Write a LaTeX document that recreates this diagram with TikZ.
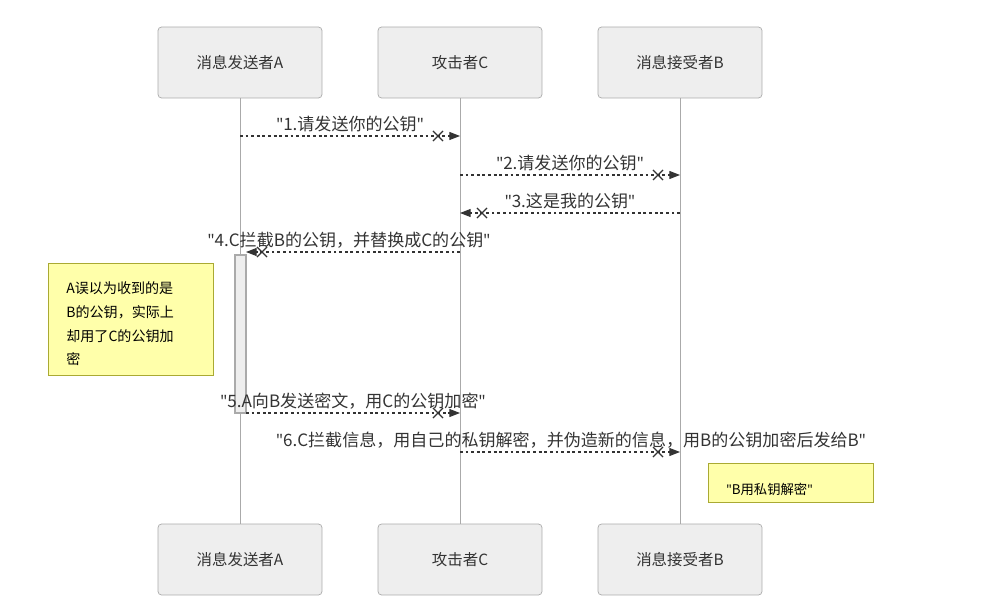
\documentclass[tikz,border=0pt]{standalone}
\usepackage{fontspec}
\setmainfont{Noto Sans CJK SC}
\newfontfamily\lat{Noto Sans}
\newcommand{\q}{{\lat"}}
\usetikzlibrary{arrows.meta,calc,shapes.misc}
\definecolor{actfill}{HTML}{EEEEEE}
\definecolor{actline}{HTML}{AAAAAA}
\definecolor{notefill}{HTML}{FFFFAA}
\definecolor{noteline}{HTML}{AAAA33}
\definecolor{ink}{HTML}{333333}
\tikzset{
  actor/.style={draw=actline, fill=actfill, rounded corners=2pt, minimum width=3.28cm, minimum height=1.42cm, font=\fontsize{8.8}{10}\selectfont, text=ink},
  life/.style={draw=actline, line width=0.4pt},
  msg/.style={draw=ink, dash pattern=on 1.6pt off 1.6pt, line width=0.6pt, -{Triangle[length=6pt,width=4.5pt]}},
  xmark/.style={cross out, draw=ink, line width=0.7pt, minimum size=5pt, inner sep=0pt, solid},
  lbl/.style={above, font=\fontsize{9.7}{10}\selectfont, text=ink, inner sep=2pt},
  note/.style={draw=noteline, fill=notefill, minimum width=3.3cm, anchor=north west},
  notetext/.style={anchor=north west, align=left, inner sep=0pt, font=\fontsize{8}{13.6}\selectfont}
}
\newcommand{\msgto}[3]{%
  \draw[msg] (#1) -- (#2) node[lbl, midway] {#3};
  \node[xmark] at ($(#2)!0.44cm!(#1)$) {};}
\begin{document}
\begin{tikzpicture}[x=0.02cm,y=-0.02cm]
\useasboundingbox (0,0) rectangle (1000,601);
% lifelines
\foreach \n/\x in {A/240,C/460,B/680}{
  \draw[life] (\x,98) -- (\x,524);
  \foreach \y [count=\i] in {136,175,213,252,413,452}
    \coordinate (\n\i) at (\x,\y);
}
% actors
\node[actor] (topA) at (240,62.5) {消息发送者A};
\node[actor] (topC) at (460,62.5) {攻击者C};
\node[actor] (topB) at (680,62.5) {消息接受者B};
\node[actor] (botA) at (240,559.5) {消息发送者A};
\node[actor] (botC) at (460,559.5) {攻击者C};
\node[actor] (botB) at (680,559.5) {消息接受者B};
% activation
\draw[actline, fill=actfill, line width=0.8pt] (235,255) rectangle (246,413);
\coordinate (A4) at (246,252);
\coordinate (A5) at (246,413);
% messages
\msgto{A1}{C1}{\q 1.请发送你的公钥\q}
\msgto{C2}{B2}{\q 2.请发送你的公钥\q}
\msgto{B3}{C3}{\q 3.这是我的公钥\q}
\draw[msg] (C4) -- (A4);
\node[lbl] (m4) at (349,252) {\q 4.C拦截B的公钥，并替换成C的公钥\q};
\node[xmark] at ($(A4)!0.32cm!(C4)$) {};
\draw[msg] (A5) -- (C5);
\node[lbl] (m5) at (353,413) {\q 5.A向B发送密文，用C的公钥加密\q};
\node[xmark] at ($(C5)!0.44cm!(A5)$) {};
\draw[msg] (C6) -- (B6);
\node[lbl] (m6) at (571,452) {\q 6.C拦截信息，用自己的私钥解密，并伪造新的信息，用B的公钥加密后发给B\q};
\node[xmark] at ($(B6)!0.44cm!(C6)$) {};
% notes
\node[note, minimum height=2.24cm] (noteA) at (48,263) {};
\node[notetext] (noteAtxt) at (66,281) {A误以为收到的是\\B的公钥，实际上\\却用了C的公钥加\\密};
\node[note, minimum height=0.78cm] (noteB) at (708,463) {};
\node[notetext, font=\fontsize{7.6}{9}\selectfont] (noteBtxt) at (726,483) {\q B用私钥解密\q};
\end{tikzpicture}
\end{document}
